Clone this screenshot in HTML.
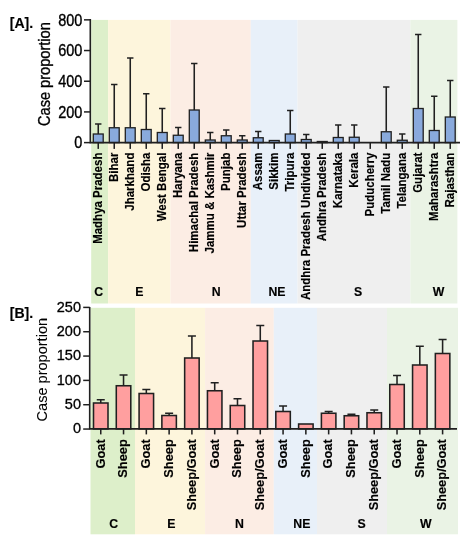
<!DOCTYPE html>
<html><head><meta charset="utf-8"><title>Figure</title>
<style>
html,body{margin:0;padding:0;background:#fff;}
svg{display:block;}
text{font-family:"Liberation Sans", Arial, sans-serif;fill:#000;stroke:#000;stroke-width:0.3px;}
.b{font-weight:bold;stroke-width:0.15px;}
.l{stroke-width:0.08px;}
</style></head><body>
<svg width="472" height="550" viewBox="0 0 472 550">
<rect width="472" height="550" fill="#ffffff"/>
<rect x="91.2" y="19.9" width="16.89999999999999" height="283.6" fill="#ddefca"/>
<rect x="108.1" y="19.9" width="62.400000000000006" height="283.6" fill="#fdf5dc"/>
<rect x="170.5" y="19.9" width="80.25" height="283.6" fill="#fcede4"/>
<rect x="250.75" y="19.9" width="46.85000000000002" height="283.6" fill="#e8f0f9"/>
<rect x="297.6" y="19.9" width="112.69999999999999" height="283.6" fill="#efefef"/>
<rect x="410.3" y="19.9" width="47.099999999999966" height="283.6" fill="#eaf3e5"/>
<path d="M98.25 134V124M95.05 124H101.45" stroke="#202020" stroke-width="1.55" fill="none"/>
<rect x="93.3" y="134" width="9.9" height="8.599999999999994" fill="#89aadc" stroke="#202020" stroke-width="1.3"/>
<path d="M98.25 142.6V148.9" stroke="#202020" stroke-width="1.55"/>
<text class="b" font-size="11.5" text-anchor="end" transform="translate(102.25 152.6) rotate(-90) scale(1 1.07)">Madhya Pradesh</text>
<path d="M114.25 127.75V84.5M111.05 84.5H117.45" stroke="#202020" stroke-width="1.55" fill="none"/>
<rect x="109.3" y="127.75" width="9.9" height="14.849999999999994" fill="#89aadc" stroke="#202020" stroke-width="1.3"/>
<path d="M114.25 142.6V148.9" stroke="#202020" stroke-width="1.55"/>
<text class="b" font-size="11.5" text-anchor="end" transform="translate(118.25 152.6) rotate(-90) scale(1 1.07)">Bihar</text>
<path d="M130.25 127.75V58M127.05 58H133.45" stroke="#202020" stroke-width="1.55" fill="none"/>
<rect x="125.3" y="127.75" width="9.9" height="14.849999999999994" fill="#89aadc" stroke="#202020" stroke-width="1.3"/>
<path d="M130.25 142.6V148.9" stroke="#202020" stroke-width="1.55"/>
<text class="b" font-size="11.5" text-anchor="end" transform="translate(134.25 152.6) rotate(-90) scale(1 1.07)">Jharkhand</text>
<path d="M146.25 129.5V93.75M143.05 93.75H149.45" stroke="#202020" stroke-width="1.55" fill="none"/>
<rect x="141.3" y="129.5" width="9.9" height="13.099999999999994" fill="#89aadc" stroke="#202020" stroke-width="1.3"/>
<path d="M146.25 142.6V148.9" stroke="#202020" stroke-width="1.55"/>
<text class="b" font-size="11.5" text-anchor="end" transform="translate(150.25 152.6) rotate(-90) scale(1 1.07)">Odisha</text>
<path d="M162.25 132.5V108.5M159.05 108.5H165.45" stroke="#202020" stroke-width="1.55" fill="none"/>
<rect x="157.3" y="132.5" width="9.9" height="10.099999999999994" fill="#89aadc" stroke="#202020" stroke-width="1.3"/>
<path d="M162.25 142.6V148.9" stroke="#202020" stroke-width="1.55"/>
<text class="b" font-size="11.5" text-anchor="end" transform="translate(166.25 152.6) rotate(-90) scale(1 1.07)">West Bengal</text>
<path d="M178.25 135.25V127.5M175.05 127.5H181.45" stroke="#202020" stroke-width="1.55" fill="none"/>
<rect x="173.3" y="135.25" width="9.9" height="7.349999999999994" fill="#89aadc" stroke="#202020" stroke-width="1.3"/>
<path d="M178.25 142.6V148.9" stroke="#202020" stroke-width="1.55"/>
<text class="b" font-size="11.5" text-anchor="end" transform="translate(182.25 152.6) rotate(-90) scale(1 1.07)">Haryana</text>
<path d="M194.25 110V63.5M191.05 63.5H197.45" stroke="#202020" stroke-width="1.55" fill="none"/>
<rect x="189.3" y="110" width="9.9" height="32.599999999999994" fill="#89aadc" stroke="#202020" stroke-width="1.3"/>
<path d="M194.25 142.6V148.9" stroke="#202020" stroke-width="1.55"/>
<text class="b" font-size="11.5" text-anchor="end" transform="translate(198.25 152.6) rotate(-90) scale(1 1.07)">Himachal Pradesh</text>
<path d="M210.25 140V132.5M207.05 132.5H213.45" stroke="#202020" stroke-width="1.55" fill="none"/>
<rect x="205.3" y="140" width="9.9" height="2.5999999999999943" fill="#89aadc" stroke="#202020" stroke-width="1.3"/>
<path d="M210.25 142.6V148.9" stroke="#202020" stroke-width="1.55"/>
<text class="b" font-size="11.5" text-anchor="end" transform="translate(214.25 152.6) rotate(-90) scale(1 1.07)">Jammu &amp; Kashmir</text>
<path d="M226.25 135.75V130M223.05 130H229.45" stroke="#202020" stroke-width="1.55" fill="none"/>
<rect x="221.3" y="135.75" width="9.9" height="6.849999999999994" fill="#89aadc" stroke="#202020" stroke-width="1.3"/>
<path d="M226.25 142.6V148.9" stroke="#202020" stroke-width="1.55"/>
<text class="b" font-size="11.5" text-anchor="end" transform="translate(230.25 152.6) rotate(-90) scale(1 1.07)">Punjab</text>
<path d="M242.25 140V135.75M239.05 135.75H245.45" stroke="#202020" stroke-width="1.55" fill="none"/>
<rect x="237.3" y="140" width="9.9" height="2.5999999999999943" fill="#89aadc" stroke="#202020" stroke-width="1.3"/>
<path d="M242.25 142.6V148.9" stroke="#202020" stroke-width="1.55"/>
<text class="b" font-size="11.5" text-anchor="end" transform="translate(246.25 152.6) rotate(-90) scale(1 1.07)">Uttar Pradesh</text>
<path d="M258.25 137.75V131.5M255.05 131.5H261.45" stroke="#202020" stroke-width="1.55" fill="none"/>
<rect x="253.3" y="137.75" width="9.9" height="4.849999999999994" fill="#89aadc" stroke="#202020" stroke-width="1.3"/>
<path d="M258.25 142.6V148.9" stroke="#202020" stroke-width="1.55"/>
<text class="b" font-size="11.5" text-anchor="end" transform="translate(262.25 152.6) rotate(-90) scale(1 1.07)">Assam</text>
<rect x="269.3" y="140.5" width="9.9" height="2.0999999999999943" fill="#89aadc" stroke="#202020" stroke-width="1.3"/>
<path d="M274.25 142.6V148.9" stroke="#202020" stroke-width="1.55"/>
<text class="b" font-size="11.5" text-anchor="end" transform="translate(278.25 152.6) rotate(-90) scale(1 1.07)">Sikkim</text>
<path d="M290.25 134V110.5M287.05 110.5H293.45" stroke="#202020" stroke-width="1.55" fill="none"/>
<rect x="285.3" y="134" width="9.9" height="8.599999999999994" fill="#89aadc" stroke="#202020" stroke-width="1.3"/>
<path d="M290.25 142.6V148.9" stroke="#202020" stroke-width="1.55"/>
<text class="b" font-size="11.5" text-anchor="end" transform="translate(294.25 152.6) rotate(-90) scale(1 1.07)">Tripura</text>
<path d="M306.25 139.5V134.5M303.05 134.5H309.45" stroke="#202020" stroke-width="1.55" fill="none"/>
<rect x="301.3" y="139.5" width="9.9" height="3.0999999999999943" fill="#89aadc" stroke="#202020" stroke-width="1.3"/>
<path d="M306.25 142.6V148.9" stroke="#202020" stroke-width="1.55"/>
<text class="b" font-size="11.5" text-anchor="end" transform="translate(310.25 152.6) rotate(-90) scale(1 1.07)">Andhra Pradesh Undivided</text>
<rect x="317.3" y="141.5" width="9.9" height="1.0999999999999943" fill="#89aadc" stroke="#202020" stroke-width="1.3"/>
<path d="M322.25 142.6V148.9" stroke="#202020" stroke-width="1.55"/>
<text class="b" font-size="11.5" text-anchor="end" transform="translate(326.25 152.6) rotate(-90) scale(1 1.07)">Andhra Pradesh</text>
<path d="M338.25 137.5V125M335.05 125H341.45" stroke="#202020" stroke-width="1.55" fill="none"/>
<rect x="333.3" y="137.5" width="9.9" height="5.099999999999994" fill="#89aadc" stroke="#202020" stroke-width="1.3"/>
<path d="M338.25 142.6V148.9" stroke="#202020" stroke-width="1.55"/>
<text class="b" font-size="11.5" text-anchor="end" transform="translate(342.25 152.6) rotate(-90) scale(1 1.07)">Karnataka</text>
<path d="M354.25 137.25V125M351.05 125H357.45" stroke="#202020" stroke-width="1.55" fill="none"/>
<rect x="349.3" y="137.25" width="9.9" height="5.349999999999994" fill="#89aadc" stroke="#202020" stroke-width="1.3"/>
<path d="M354.25 142.6V148.9" stroke="#202020" stroke-width="1.55"/>
<text class="b" font-size="11.5" text-anchor="end" transform="translate(358.25 152.6) rotate(-90) scale(1 1.07)">Kerala</text>
<path d="M370.25 142.6V148.9" stroke="#202020" stroke-width="1.55"/>
<text class="b" font-size="11.5" text-anchor="end" transform="translate(374.25 152.6) rotate(-90) scale(1 1.07)">Puducherry</text>
<path d="M386.25 131.75V87M383.05 87H389.45" stroke="#202020" stroke-width="1.55" fill="none"/>
<rect x="381.3" y="131.75" width="9.9" height="10.849999999999994" fill="#89aadc" stroke="#202020" stroke-width="1.3"/>
<path d="M386.25 142.6V148.9" stroke="#202020" stroke-width="1.55"/>
<text class="b" font-size="11.5" text-anchor="end" transform="translate(390.25 152.6) rotate(-90) scale(1 1.07)">Tamil Nadu</text>
<path d="M402.25 140.25V134M399.05 134H405.45" stroke="#202020" stroke-width="1.55" fill="none"/>
<rect x="397.3" y="140.25" width="9.9" height="2.3499999999999943" fill="#89aadc" stroke="#202020" stroke-width="1.3"/>
<path d="M402.25 142.6V148.9" stroke="#202020" stroke-width="1.55"/>
<text class="b" font-size="11.5" text-anchor="end" transform="translate(406.25 152.6) rotate(-90) scale(1 1.07)">Telangana</text>
<path d="M418.25 108.5V34.5M415.05 34.5H421.45" stroke="#202020" stroke-width="1.55" fill="none"/>
<rect x="413.3" y="108.5" width="9.9" height="34.099999999999994" fill="#89aadc" stroke="#202020" stroke-width="1.3"/>
<path d="M418.25 142.6V148.9" stroke="#202020" stroke-width="1.55"/>
<text class="b" font-size="11.5" text-anchor="end" transform="translate(422.25 152.6) rotate(-90) scale(1 1.07)">Gujarat</text>
<path d="M434.25 130.5V96.25M431.05 96.25H437.45" stroke="#202020" stroke-width="1.55" fill="none"/>
<rect x="429.3" y="130.5" width="9.9" height="12.099999999999994" fill="#89aadc" stroke="#202020" stroke-width="1.3"/>
<path d="M434.25 142.6V148.9" stroke="#202020" stroke-width="1.55"/>
<text class="b" font-size="11.5" text-anchor="end" transform="translate(438.25 152.6) rotate(-90) scale(1 1.07)">Maharashtra</text>
<path d="M450.25 117V80.5M447.05 80.5H453.45" stroke="#202020" stroke-width="1.55" fill="none"/>
<rect x="445.3" y="117" width="9.9" height="25.599999999999994" fill="#89aadc" stroke="#202020" stroke-width="1.3"/>
<path d="M450.25 142.6V148.9" stroke="#202020" stroke-width="1.55"/>
<text class="b" font-size="11.5" text-anchor="end" transform="translate(454.25 152.6) rotate(-90) scale(1 1.07)">Rajasthan</text>
<path d="M90.3 19.05V143.4M89.5 142.6H460" stroke="#202020" stroke-width="1.6" fill="none"/>
<path d="M84 19.85H90.7" stroke="#202020" stroke-width="1.5"/>
<text font-size="14.5" text-anchor="end" transform="translate(82.3 25.650000000000002) scale(1 1.15)">800</text>
<path d="M84 50.540000000000006H90.7" stroke="#202020" stroke-width="1.5"/>
<text font-size="14.5" text-anchor="end" transform="translate(82.3 56.34) scale(1 1.15)">600</text>
<path d="M84 81.23H90.7" stroke="#202020" stroke-width="1.5"/>
<text font-size="14.5" text-anchor="end" transform="translate(82.3 87.03) scale(1 1.15)">400</text>
<path d="M84 111.92000000000002H90.7" stroke="#202020" stroke-width="1.5"/>
<text font-size="14.5" text-anchor="end" transform="translate(82.3 117.72000000000001) scale(1 1.15)">200</text>
<path d="M84 142.61H90.7" stroke="#202020" stroke-width="1.5"/>
<text font-size="14.5" text-anchor="end" transform="translate(82.3 148.41000000000003) scale(1 1.15)">0</text>
<text font-size="14.6" text-anchor="middle" transform="translate(50.3 74.1) rotate(-90) scale(1 1.12)">Case proportion</text>
<text class="b" font-size="14.1" text-anchor="start" transform="translate(9.7 27.6) scale(1 1.06)">[A].</text>
<text class="b" font-size="12.3" text-anchor="middle" transform="translate(98.8 296) scale(1 1.04)">C</text>
<text class="b" font-size="12.3" text-anchor="middle" transform="translate(139.3 296) scale(1 1.04)">E</text>
<text class="b" font-size="12.3" text-anchor="middle" transform="translate(216.3 296) scale(1 1.04)">N</text>
<text class="b" font-size="12.3" text-anchor="middle" transform="translate(277 296) scale(1 1.04)">NE</text>
<text class="b" font-size="12.3" text-anchor="middle" transform="translate(358 296) scale(1 1.04)">S</text>
<text class="b" font-size="12.3" text-anchor="middle" transform="translate(438.5 296) scale(1 1.04)">W</text>
<rect x="90.5" y="307.8" width="44.5" height="226.49999999999994" fill="#ddefca"/>
<rect x="135" y="307.8" width="70.1" height="226.49999999999994" fill="#fdf5dc"/>
<rect x="205.1" y="307.8" width="68.70000000000002" height="226.49999999999994" fill="#fcede4"/>
<rect x="273.8" y="307.8" width="43.19999999999999" height="226.49999999999994" fill="#e8f0f9"/>
<rect x="317" y="307.8" width="70" height="226.49999999999994" fill="#efefef"/>
<rect x="387" y="307.8" width="71" height="226.49999999999994" fill="#eaf3e5"/>
<path d="M100.75 403V399.75M96.75 399.75H104.75" stroke="#202020" stroke-width="1.55" fill="none"/>
<rect x="93.5" y="403" width="14.5" height="25.899999999999977" fill="#ff9f9f" stroke="#202020" stroke-width="1.55"/>
<path d="M100.75 428.9V434.4" stroke="#202020" stroke-width="1.55"/>
<text class="b" font-size="12.8" text-anchor="end" transform="translate(104.55 439.3) rotate(-90) scale(1 0.96)">Goat</text>
<path d="M123.53999999999999 385.75V375M119.53999999999999 375H127.53999999999999" stroke="#202020" stroke-width="1.55" fill="none"/>
<rect x="116.28999999999999" y="385.75" width="14.5" height="43.14999999999998" fill="#ff9f9f" stroke="#202020" stroke-width="1.55"/>
<path d="M123.53999999999999 428.9V434.4" stroke="#202020" stroke-width="1.55"/>
<text class="b" font-size="12.8" text-anchor="end" transform="translate(127.33999999999999 439.3) rotate(-90) scale(1 0.96)">Sheep</text>
<path d="M146.32999999999998 393.5V389.5M142.32999999999998 389.5H150.32999999999998" stroke="#202020" stroke-width="1.55" fill="none"/>
<rect x="139.07999999999998" y="393.5" width="14.5" height="35.39999999999998" fill="#ff9f9f" stroke="#202020" stroke-width="1.55"/>
<path d="M146.32999999999998 428.9V434.4" stroke="#202020" stroke-width="1.55"/>
<text class="b" font-size="12.8" text-anchor="end" transform="translate(150.13 439.3) rotate(-90) scale(1 0.96)">Goat</text>
<path d="M169.12 415.5V413.25M165.12 413.25H173.12" stroke="#202020" stroke-width="1.55" fill="none"/>
<rect x="161.87" y="415.5" width="14.5" height="13.399999999999977" fill="#ff9f9f" stroke="#202020" stroke-width="1.55"/>
<path d="M169.12 428.9V434.4" stroke="#202020" stroke-width="1.55"/>
<text class="b" font-size="12.8" text-anchor="end" transform="translate(172.92000000000002 439.3) rotate(-90) scale(1 0.96)">Sheep</text>
<path d="M191.91 358V336M187.91 336H195.91" stroke="#202020" stroke-width="1.55" fill="none"/>
<rect x="184.66" y="358" width="14.5" height="70.89999999999998" fill="#ff9f9f" stroke="#202020" stroke-width="1.55"/>
<path d="M191.91 428.9V434.4" stroke="#202020" stroke-width="1.55"/>
<text class="b" font-size="12.8" text-anchor="end" transform="translate(195.71 439.3) rotate(-90) scale(1 0.96)">Sheep/Goat</text>
<path d="M214.7 390.75V382.75M210.7 382.75H218.7" stroke="#202020" stroke-width="1.55" fill="none"/>
<rect x="207.45" y="390.75" width="14.5" height="38.14999999999998" fill="#ff9f9f" stroke="#202020" stroke-width="1.55"/>
<path d="M214.7 428.9V434.4" stroke="#202020" stroke-width="1.55"/>
<text class="b" font-size="12.8" text-anchor="end" transform="translate(218.5 439.3) rotate(-90) scale(1 0.96)">Goat</text>
<path d="M237.49 405.5V398.75M233.49 398.75H241.49" stroke="#202020" stroke-width="1.55" fill="none"/>
<rect x="230.24" y="405.5" width="14.5" height="23.399999999999977" fill="#ff9f9f" stroke="#202020" stroke-width="1.55"/>
<path d="M237.49 428.9V434.4" stroke="#202020" stroke-width="1.55"/>
<text class="b" font-size="12.8" text-anchor="end" transform="translate(241.29000000000002 439.3) rotate(-90) scale(1 0.96)">Sheep</text>
<path d="M260.28 341V325.5M256.28 325.5H264.28" stroke="#202020" stroke-width="1.55" fill="none"/>
<rect x="253.02999999999997" y="341" width="14.5" height="87.89999999999998" fill="#ff9f9f" stroke="#202020" stroke-width="1.55"/>
<path d="M260.28 428.9V434.4" stroke="#202020" stroke-width="1.55"/>
<text class="b" font-size="12.8" text-anchor="end" transform="translate(264.08 439.3) rotate(-90) scale(1 0.96)">Sheep/Goat</text>
<path d="M283.07 411.5V406M279.07 406H287.07" stroke="#202020" stroke-width="1.55" fill="none"/>
<rect x="275.82" y="411.5" width="14.5" height="17.399999999999977" fill="#ff9f9f" stroke="#202020" stroke-width="1.55"/>
<path d="M283.07 428.9V434.4" stroke="#202020" stroke-width="1.55"/>
<text class="b" font-size="12.8" text-anchor="end" transform="translate(286.87 439.3) rotate(-90) scale(1 0.96)">Goat</text>
<rect x="298.61" y="424" width="14.5" height="4.899999999999977" fill="#ff9f9f" stroke="#202020" stroke-width="1.55"/>
<path d="M305.86 428.9V434.4" stroke="#202020" stroke-width="1.55"/>
<text class="b" font-size="12.8" text-anchor="end" transform="translate(309.66 439.3) rotate(-90) scale(1 0.96)">Sheep</text>
<path d="M328.65 413.25V411.5M324.65 411.5H332.65" stroke="#202020" stroke-width="1.55" fill="none"/>
<rect x="321.4" y="413.25" width="14.5" height="15.649999999999977" fill="#ff9f9f" stroke="#202020" stroke-width="1.55"/>
<path d="M328.65 428.9V434.4" stroke="#202020" stroke-width="1.55"/>
<text class="b" font-size="12.8" text-anchor="end" transform="translate(332.45 439.3) rotate(-90) scale(1 0.96)">Goat</text>
<path d="M351.44 415.75V414.25M347.44 414.25H355.44" stroke="#202020" stroke-width="1.55" fill="none"/>
<rect x="344.19" y="415.75" width="14.5" height="13.149999999999977" fill="#ff9f9f" stroke="#202020" stroke-width="1.55"/>
<path d="M351.44 428.9V434.4" stroke="#202020" stroke-width="1.55"/>
<text class="b" font-size="12.8" text-anchor="end" transform="translate(355.24 439.3) rotate(-90) scale(1 0.96)">Sheep</text>
<path d="M374.23 412.75V410M370.23 410H378.23" stroke="#202020" stroke-width="1.55" fill="none"/>
<rect x="366.98" y="412.75" width="14.5" height="16.149999999999977" fill="#ff9f9f" stroke="#202020" stroke-width="1.55"/>
<path d="M374.23 428.9V434.4" stroke="#202020" stroke-width="1.55"/>
<text class="b" font-size="12.8" text-anchor="end" transform="translate(378.03000000000003 439.3) rotate(-90) scale(1 0.96)">Sheep/Goat</text>
<path d="M397.02 384.5V375.5M393.02 375.5H401.02" stroke="#202020" stroke-width="1.55" fill="none"/>
<rect x="389.77" y="384.5" width="14.5" height="44.39999999999998" fill="#ff9f9f" stroke="#202020" stroke-width="1.55"/>
<path d="M397.02 428.9V434.4" stroke="#202020" stroke-width="1.55"/>
<text class="b" font-size="12.8" text-anchor="end" transform="translate(400.82 439.3) rotate(-90) scale(1 0.96)">Goat</text>
<path d="M419.81 365V346.25M415.81 346.25H423.81" stroke="#202020" stroke-width="1.55" fill="none"/>
<rect x="412.56" y="365" width="14.5" height="63.89999999999998" fill="#ff9f9f" stroke="#202020" stroke-width="1.55"/>
<path d="M419.81 428.9V434.4" stroke="#202020" stroke-width="1.55"/>
<text class="b" font-size="12.8" text-anchor="end" transform="translate(423.61 439.3) rotate(-90) scale(1 0.96)">Sheep</text>
<path d="M442.59999999999997 353.5V339.5M438.59999999999997 339.5H446.59999999999997" stroke="#202020" stroke-width="1.55" fill="none"/>
<rect x="435.34999999999997" y="353.5" width="14.5" height="75.39999999999998" fill="#ff9f9f" stroke="#202020" stroke-width="1.55"/>
<path d="M442.59999999999997 428.9V434.4" stroke="#202020" stroke-width="1.55"/>
<text class="b" font-size="12.8" text-anchor="end" transform="translate(446.4 439.3) rotate(-90) scale(1 0.96)">Sheep/Goat</text>
<path d="M89.7 306.90000000000003V429.5M89.1 428.9H457" stroke="#202020" stroke-width="1.6" fill="none"/>
<path d="M83.2 307.4H89.7" stroke="#202020" stroke-width="1.5"/>
<text font-size="14.5" text-anchor="end" transform="translate(81 311.79999999999995) scale(1 1.04)">250</text>
<path d="M83.2 331.72999999999996H89.7" stroke="#202020" stroke-width="1.5"/>
<text font-size="14.5" text-anchor="end" transform="translate(81 336.12999999999994) scale(1 1.04)">200</text>
<path d="M83.2 356.05999999999995H89.7" stroke="#202020" stroke-width="1.5"/>
<text font-size="14.5" text-anchor="end" transform="translate(81 360.4599999999999) scale(1 1.04)">150</text>
<path d="M83.2 380.39H89.7" stroke="#202020" stroke-width="1.5"/>
<text font-size="14.5" text-anchor="end" transform="translate(81 384.78999999999996) scale(1 1.04)">100</text>
<path d="M83.2 404.71999999999997H89.7" stroke="#202020" stroke-width="1.5"/>
<text font-size="14.5" text-anchor="end" transform="translate(81 409.11999999999995) scale(1 1.04)">50</text>
<path d="M83.2 429.04999999999995H89.7" stroke="#202020" stroke-width="1.5"/>
<text font-size="14.5" text-anchor="end" transform="translate(81 433.44999999999993) scale(1 1.04)">0</text>
<text class="l" font-size="14.55" text-anchor="middle" transform="translate(47.1 369.7) rotate(-90) scale(1 0.95)">Case proportion</text>
<text class="b" font-size="14.1" text-anchor="start" transform="translate(9.7 318.0) scale(1 1.03)">[B].</text>
<text class="b" font-size="12.3" text-anchor="middle" transform="translate(113.6 527.8) scale(1 1.04)">C</text>
<text class="b" font-size="12.3" text-anchor="middle" transform="translate(171.4 527.8) scale(1 1.04)">E</text>
<text class="b" font-size="12.3" text-anchor="middle" transform="translate(239.5 527.8) scale(1 1.04)">N</text>
<text class="b" font-size="12.3" text-anchor="middle" transform="translate(301.8 527.8) scale(1 1.04)">NE</text>
<text class="b" font-size="12.3" text-anchor="middle" transform="translate(361.7 527.8) scale(1 1.04)">S</text>
<text class="b" font-size="12.3" text-anchor="middle" transform="translate(425.8 527.8) scale(1 1.04)">W</text>
</svg></body></html>
